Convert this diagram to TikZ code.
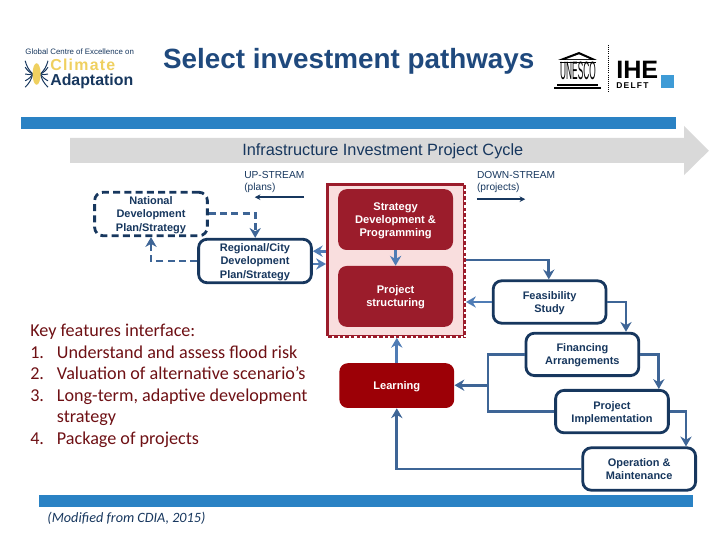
\documentclass[tikz,border=0pt]{standalone}
\usepackage{fontspec}
\setmainfont{Liberation Sans}
\newfontfamily\keyfont{Carlito}
\usepackage{xcolor}
\usetikzlibrary{arrows.meta,positioning,shapes.geometric,fit}
\definecolor{barblue}{HTML}{2A82C4}
\definecolor{titleblue}{HTML}{1F497D}
\definecolor{navybox}{HTML}{17375E}
\definecolor{linkblue}{HTML}{3E6596}
\definecolor{linklight}{HTML}{4F7CB5}
\definecolor{cyclered}{HTML}{9B1C2B}
\definecolor{learnred}{HTML}{9C0006}
\definecolor{pinkbg}{HTML}{F9DEDE}
\definecolor{keyred}{HTML}{6E1014}
\definecolor{logoyellow}{HTML}{EFD060}
\definecolor{squareblue}{HTML}{3E9BD6}
\tikzset{
  planbox/.style={draw=navybox,line width=2pt,rounded corners=6pt,fill=white,align=center,text depth=-1.2pt,font=\fontsize{7.8}{9.3}\selectfont\bfseries,text=navybox,minimum width=2.82cm,minimum height=1.06cm},
  redbox/.style={fill=cyclered,rounded corners=6pt,align=center,text depth=-1.2pt,font=\fontsize{7.9}{9.3}\selectfont\bfseries,text=white,minimum width=2.87cm,minimum height=1.52cm},
  link/.style={draw=linkblue,line width=1.9pt,-{Stealth[length=7pt,width=8pt]}},
  plainlink/.style={draw=linkblue,line width=1.9pt},
  dashlink/.style={link,dash pattern=on 5pt off 3pt},
  smalltext/.style={font=\fontsize{7.25}{8.6}\selectfont,text=navybox,align=left}
}
\begin{document}
\begin{tikzpicture}[x=1cm,y=1cm]
\useasboundingbox (0,0) rectangle (18,13.5);
% bars and cycle arrow
\fill[barblue] (0.52,10.27) rectangle (16.9,10.57);
\fill[barblue] (0.98,0.83) rectangle (17.32,1.13);
\fill[gray!30] (1.75,9.43) -- (17.1,9.43) -- (17.1,9.12) -- (17.72,9.73) -- (17.1,10.35) -- (17.1,10.05) -- (1.75,10.05) -- cycle;
\node (cycle) at (9.57,9.73) {\fontsize{11.6}{13}\selectfont\color{navybox}Infrastructure Investment Project Cycle};
\node (title) at (8.72,11.97) {\fontsize{19.8}{24}\selectfont\bfseries\color{titleblue}Select investment pathways};
% left logo
\node[anchor=west,inner sep=0pt] (logotop) at (0.63,12.22) {\fontsize{5.6}{6}\selectfont\color{navybox}Global Centre of Excellence on};
\node[anchor=west,inner sep=0pt] (logoclimate) at (1.25,11.87) {\fontsize{11.3}{12}\selectfont\bfseries\addfontfeature{LetterSpace=8}\color{logoyellow}Climate};
\node[anchor=west,inner sep=0pt] (logoadapt) at (1.25,11.47) {\fontsize{11.3}{12}\selectfont\bfseries\color{navybox}Adaptation};
\foreach \yy in {11.32,11.48,11.65,11.82,11.98}{
  \draw[navybox,line width=0.7pt] (0.63,\yy) to[bend right=15] (0.82,11.65);
  \draw[navybox,line width=0.7pt] (1.2,\yy) to[bend left=15] (1.01,11.65);
}
\fill[logoyellow] (0.915,11.65) ellipse (0.1 and 0.27);
% right logo
\fill[black] (13.95,12) -- (14.475,12.2) -- (14.925,12) -- cycle;
\fill[white] (14.15,12.02) -- (14.475,12.14) -- (14.75,12.02) -- cycle;
\draw[black,line width=0.9pt] (14,11.94) -- (14.9,11.94);
\node[inner sep=0pt] (unesco) at (14.45,11.725) {\scalebox{0.33}[1]{\fontsize{17.9}{18}\selectfont\color{black}UNESCO}};
\draw[black,line width=1.1pt] (13.925,11.375) -- (14.95,11.375);
\draw[black,line width=1.1pt] (13.85,11.3) -- (15.025,11.3);
\draw[black,densely dotted,line width=0.5pt] (15.2,12.375) -- (15.2,11.175);
\node[anchor=west,inner sep=0pt] (ihe) at (15.4,11.76) {\fontsize{17.9}{18}\selectfont\bfseries\color{black}IHE};
\node[anchor=west,inner sep=0pt] (delft) at (15.4,11.36) {\fontsize{6}{7}\selectfont\bfseries\addfontfeature{LetterSpace=15}\color{black}DELFT};
\fill[squareblue] (16.525,11.3) rectangle (16.85,11.625);
% plan boxes
\node[planbox,dashed,dash pattern=on 5pt off 3pt] (national) at (3.775,8.15) {National\\Development\\Plan/Strategy};
\node[planbox] (regional) at (6.375,6.975) {Regional/City\\Development\\Plan/Strategy};
% upstream and downstream labels
\node[smalltext,anchor=west,inner sep=0pt] (uplabel) at (6.1,8.96) {UP-STREAM\\(plans)};
\node[smalltext,anchor=west,inner sep=0pt] (downlabel) at (11.92,8.96) {DOWN-STREAM\\(projects)};
\coordinate (upstart) at (7.6,8.57);
\coordinate (upend) at (6.37,8.57);
\coordinate (downstart) at (11.92,8.52);
\coordinate (downend) at (13.13,8.52);
\draw[navybox,line width=1.1pt,-{Stealth[length=4pt,width=4pt]}] (upstart) -- (upend);
\draw[navybox,line width=1.1pt,-{Stealth[length=4pt,width=4pt]}] (downstart) -- (downend);
% cycle boxes
\node[draw=cyclered,fill=pinkbg,line width=2pt,minimum width=3.43cm,minimum height=3.8cm] (cyclebox) at (9.9,6.99) {};
\draw[white,line width=2.2pt,dash pattern=on 1.5pt off 2.5pt] (cyclebox.north east) -- (cyclebox.south east) -- (cyclebox.south west);
\node[redbox] (strategy) at (9.89,8.01) {Strategy\\Development \&\\Programming};
\node[redbox] (structuring) at (9.89,6.09) {Project\\structuring};
\node[redbox,fill=learnred,minimum height=1.12cm] (learning) at (9.92,3.86) {Learning};
% project boxes
\node[planbox] (feasibility) at (13.74,5.95) {Feasibility\\Study};
\node[planbox] (financing) at (14.56,4.64) {Financing\\Arrangements};
\node[planbox] (implementation) at (15.3,3.21) {Project\\Implementation};
\node[planbox] (operation) at (15.98,1.775) {Operation \&\\Maintenance};
% connectors
\draw[dashlink] (national.east |- 0,8.17) -| (regional.north -| 6.38,0);
\draw[dashlink] (regional.west) -| (national.south);
\draw[link,draw=linklight] (cyclebox.west |- 0,7.22) -- (regional.east |- 0,7.22);
\draw[link,draw=linklight] (regional.east |- 0,6.9) -- (cyclebox.west |- 0,6.9);
\draw[link,draw=linklight] (strategy) -- (structuring);
\draw[link] (cyclebox.east |- 0,7) -| (feasibility.north -| 13.72,0);
\draw[link,draw=linklight] (feasibility.west) -- (cyclebox.east |- feasibility.west);
\draw[link] (feasibility.east) -| (financing.north -| 15.65,0);
\draw[link] (financing.east) -| (implementation.north -| 16.47,0);
\draw[link] (implementation.east) -| (operation.north -| 17.15,0);
\coordinate (joint) at (12.2,3.87);
\draw[plainlink] (financing.west) -| (joint) |- (implementation.west);
\draw[link] (joint) -- (learning.east |- joint);
\draw[link] (operation.west) -| (learning.south);
\draw[link,draw=linklight] (learning.north) -- (cyclebox.south -| learning.north);
% key features
\node[anchor=north west,inner sep=0pt] (features) at (0.75,5.47) {\fontsize{12.9}{15.36}\selectfont\keyfont\color{keyred}%
\begin{tabular}{@{}p{19pt}@{}l@{}}
\multicolumn{2}{@{}l@{}}{Key features interface:}\\
1. & Understand and assess flood risk\\
2. & Valuation of alternative scenario’s\\
3. & Long-term, adaptive development\\
 & strategy\\
4. & Package of projects
\end{tabular}};
\node[anchor=west,inner sep=0pt] (source) at (1.18,0.55) {\fontsize{10.1}{12}\selectfont\keyfont\itshape\color{navybox}(Modified from CDIA, 2015)};
\end{tikzpicture}
\end{document}
